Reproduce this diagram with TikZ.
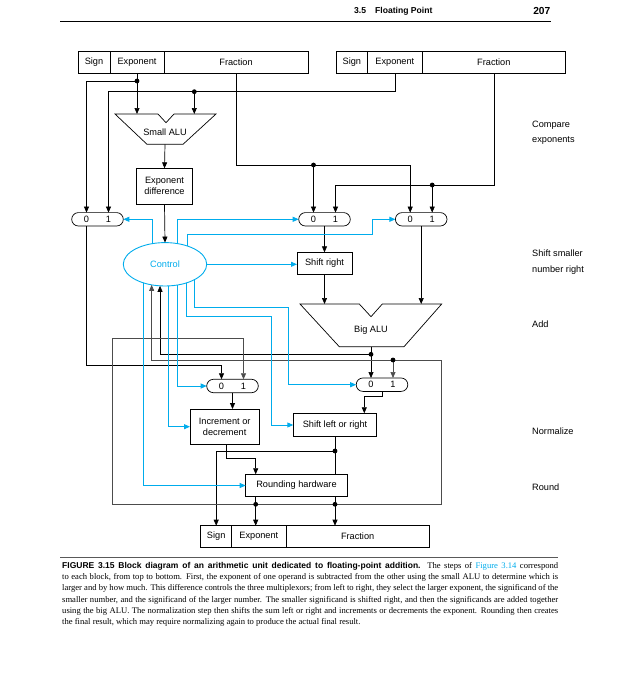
\documentclass[tikz,border=0pt]{standalone}
\usepackage{fontspec}
\setmainfont{Liberation Serif}
\setsansfont{Liberation Sans}
\usetikzlibrary{arrows.meta,positioning,shapes.geometric,shapes.misc}
\definecolor{ctlblue}{RGB}{0,172,236}
\definecolor{fbgray}{gray}{0.3}

\begin{document}
\begin{tikzpicture}[x=1pt, y=-1pt, >={Triangle[length=6pt,width=5pt]},
        every node/.style={font=\sffamily\fontsize{9.2}{11}\selectfont},
        field/.style={draw, line width=0.7pt, minimum height=22pt, inner sep=0pt, outer sep=0pt},
        unit/.style={draw, line width=0.7pt, align=center, inner sep=0pt, outer sep=0pt},
        mux/.style={draw, line width=0.7pt, rounded rectangle, minimum width=51.6pt, minimum height=13.4pt, inner sep=0pt, outer sep=0pt},
        phase/.style={anchor=west, align=left, inner sep=0pt, font=\sffamily\fontsize{9.2}{15.5}\selectfont},
        wire/.style={line width=0.7pt},
        fb/.style={fbgray, line width=0.7pt},
        ctl/.style={ctlblue, line width=0.9pt, ->}]
    \useasboundingbox (0,0) rectangle (620,680);

    % page header
    \node[anchor=base west, inner sep=0pt, font=\sffamily\bfseries\fontsize{8.6}{10}\selectfont] (sect) at (354,13.5) {3.5\hspace{9pt}Floating Point};
    \node[anchor=base east, inner sep=0pt, font=\sffamily\bfseries\fontsize{10.2}{12}\selectfont] (page) at (550.5,14) {207};
    \draw[line width=0.9pt] (60,21.7) -- (551,21.7);

    % operand registers
    \node[field, minimum width=32pt] (s1) at (94,62) {Sign};
    \node[field, minimum width=54pt, right=0pt of s1] (e1) {Exponent};
    \node[field, minimum width=144pt, right=0pt of e1] (f1) {Fraction};
    \node[field, minimum width=31.7pt] (s2) at (351.85,62) {Sign};
    \node[field, minimum width=54.3pt, right=0pt of s2] (e2) {Exponent};
    \node[field, minimum width=143.7pt, right=0pt of e2] (f2) {Fraction};

    % small ALU
    \draw[wire] (115,114) -- (158,114) -- (166,122.7) -- (174,114) -- (216,114) -- (183,144.3) -- (147,144.3) -- cycle;
    \node (salu) at (165,132) {Small ALU};
    \coordinate (salu-a) at (137,114);
    \coordinate (salu-b) at (194.3,114);
    \coordinate (salu-o) at (165,144.3);
    \node[unit, minimum width=55.6pt, minimum height=35.7pt] (diff) at (164.5,186.2) {Exponent\\difference};

    % multiplexors
    \node[mux] (m1) at (97.5,219.3) {0\hspace{16.9pt}1};
    \node[mux] (m2) at (324.5,219.3) {0\hspace{16.9pt}1};
    \node[mux] (m3) at (421.2,219.3) {0\hspace{16.9pt}1};
    \node[mux] (m4) at (232.5,386) {0\hspace{16.9pt}1};
    \node[mux] (m5) at (382,384.7) {0\hspace{16.9pt}1};

    % control
    \node[ellipse, draw=ctlblue, text=ctlblue, line width=0.9pt, minimum width=83.4pt, minimum height=43.4pt, inner sep=0pt, outer sep=0pt] (ctrl) at (165,264.3) {Control};

    \node[unit, minimum width=55pt, minimum height=21.7pt] (shr) at (324.5,263.2) {Shift right};

    % big ALU
    \draw[wire] (300,304) -- (359.3,304) -- (371,316.7) -- (382.3,304) -- (441.7,304) -- (404,346.7) -- (339.3,346.7) -- cycle;
    \node (balu) at (371,330) {Big ALU};
    \coordinate (balu-a) at (324.5,304);
    \coordinate (balu-b) at (421.2,304);
    \coordinate (balu-o) at (371,346.7);

    \node[unit, minimum width=69.3pt, minimum height=35.3pt] (incdec) at (224.65,426.7) {Increment or\\decrement};
    \node[unit, minimum width=83.4pt, minimum height=23.4pt] (shlr) at (335,425) {Shift left or right};
    \node[unit, minimum width=101.6pt, minimum height=22.4pt] (rnd) at (296.5,485.5) {Rounding hardware};

    % result register
    \node[field, minimum width=31pt, minimum height=21.6pt] (s3) at (216.2,536.5) {Sign};
    \node[field, minimum width=54.3pt, minimum height=21.6pt, right=0pt of s3] (e3) {Exponent};
    \node[field, minimum width=143.3pt, minimum height=21.6pt, right=0pt of e3] (f3) {Fraction};

    % steps
    \node[phase] (p1) at (532,132.5) {Compare\\exponents};
    \node[phase] (p2) at (532,262) {Shift smaller\\number right};
    \node[phase] (p3) at (532,324) {Add};
    \node[phase] (p4) at (532,431) {Normalize};
    \node[phase] (p5) at (532,487) {Round};

    % junctions and corners
    \coordinate (j1) at (137,81);
    \coordinate (j2) at (194.3,91.7);
    \coordinate (j3) at (313.5,165);
    \coordinate (j4) at (432.2,185);
    \coordinate (j5) at (371,354.3);
    \coordinate (j6) at (393,360);
    \coordinate (j7) at (335,451);
    \coordinate (j8) at (255.7,504.3);
    \coordinate (j9) at (335,504.3);
    \coordinate (k1) at (221.5,365);
    \coordinate (k2) at (255.7,458.3);
    \coordinate (k3) at (364.3,396.7);
    \coordinate (k4) at (372.3,234.3);
    \coordinate (k5) at (271.7,316.7);
    \coordinate (k6) at (288.3,307);
    \coordinate (c1) at (112,338.3);
    \coordinate (c2) at (441,360);

    % data paths
    \draw[wire,->] (e1.south) -- (salu-a);
    \draw[wire,->] (j1) -| ([xshift=-11pt]m1.north);
    \draw[wire] (e2.south) |- (j2);
    \draw[wire,->] (j2) -| ([xshift=11pt]m1.north);
    \draw[wire,->] (j2) -- (salu-b);
    \draw[wire,->] (salu-o) -- (diff.north);
    \draw[wire,->] (diff.south) -- (ctrl.north);
    \draw[wire] (f1.south) |- (j3);
    \draw[wire,->] (j3) -- ([xshift=-11pt]m2.north);
    \draw[wire,->] (j3) -| ([xshift=-11pt]m3.north);
    \draw[wire] (f2.south) |- (j4);
    \draw[wire,->] (j4) -- ([xshift=11pt]m3.north);
    \draw[wire,->] (j4) -| ([xshift=11pt]m2.north);
    \draw[wire,->] ([xshift=-11pt]m1.south) |- (k1) -- ([xshift=-11pt]m4.north);
    \draw[wire,->] (m2.south) -- (shr.north);
    \draw[wire,->] (shr.south) -- (balu-a);
    \draw[wire,->] (m3.south) -- (balu-b);
    \draw[wire] (balu-o) -- (j5);
    \draw[wire,->] (j5) -- ([xshift=-11pt]m5.north);
    \draw[wire,->] (j5) -| (ctrl.-103);
    \draw[wire,->] (m4.south) -- (m4.south |- incdec.north);
    \draw[wire,->] ([xshift=1.3pt]incdec.south) |- (k2) -- (rnd.north -| k2);
    \draw[wire,->] (m5.south) |- (k3) -- (shlr.north -| k3);
    \draw[wire] (shlr.south) -- (j7);
    \draw[wire] (j7) -- (rnd.north -| j7);
    \draw[wire,->] (j7) -| (s3.north);
    \draw[wire] (rnd.south -| j8) -- (j8);
    \draw[wire,->] (j8) -- (e3.north -| j8);
    \draw[wire] (rnd.south -| j9) -- (j9);
    \draw[wire,->] (j9) -- (f3.north -| j9);

    % renormalize feedback
    \draw[fb,->] (j8) -| (c1) -| ([xshift=11pt]m4.north);
    \draw[fb] (j8) -- (j9) -| (c2);
    \draw[fb,->] (c2) -| (ctrl.-123);
    \draw[fb,->] (j6) -- ([xshift=11pt]m5.north);

    % control lines
    \draw[ctl] (ctrl.121.6) |- (m1.east);
    \draw[ctl] (ctrl.60.7) |- (m2.west);
    \draw[ctl] (ctrl.39.4) |- (k4) |- (m3.west);
    \draw[ctl] (ctrl.east) -- (ctrl.east -| shr.west);
    \draw[ctl] (ctrl.-140.6) |- (rnd.west);
    \draw[ctl] (ctrl.-81.3) |- (incdec.west);
    \draw[ctl] (ctrl.-60.7) |- (m4.west);
    \draw[ctl] (ctrl.-41.8) |- (k5) |- (shlr.west);
    \draw[ctl] (ctrl.-27.8) |- (k6) |- (m5.west);

    \foreach \d in {j1,j2,j3,j4,j5,j6,j7,j8,j9}
        \fill (\d) circle (2.4pt);

    % caption
    \draw[line width=1.3pt, black!65] (60,557.7) -- (558,557.7);
    \node[anchor=north west, inner sep=0pt, text width=496pt, align=justify, font=\rmfamily\fontsize{8.6}{11.3}\selectfont] (cap) at (62,562) {{\sffamily\bfseries\fontsize{8.5}{11.3}\selectfont FIGURE 3.15 Block diagram of an arithmetic unit dedicated to floating-point addition.} The steps of \textcolor{ctlblue}{Figure 3.14} correspond\linebreak to each block, from top to bottom. First, the exponent of one operand is subtracted from the other using the small ALU to determine which is\linebreak larger and by how much. This difference controls the three multiplexors; from left to right, they select the larger exponent, the significand of the\linebreak smaller number, and the significand of the larger number. The smaller significand is shifted right, and then the significands are added together\linebreak using the big ALU. The normalization step then shifts the sum left or right and increments or decrements the exponent. Rounding then creates\linebreak the final result, which may require normalizing again to produce the actual final result.};
\end{tikzpicture}
\end{document}
